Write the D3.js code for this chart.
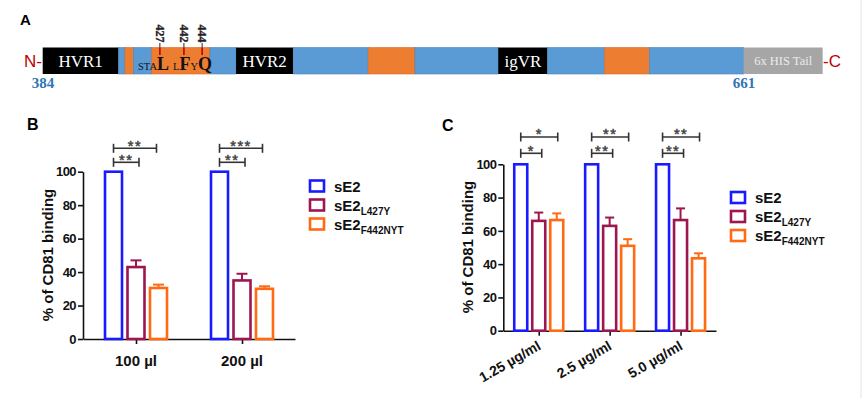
<!DOCTYPE html>
<html><head><meta charset="utf-8">
<script src="https://cdn.jsdelivr.net/npm/d3@7"></script>
<style>
body{margin:0;background:#fff;}
svg{display:block;}
</style></head>
<body>
<svg id="c" width="862" height="398" font-family="'Liberation Sans',Arial,sans-serif"></svg>
<script>
// ---------- DATA ----------
// Panel A: domain map (residue boundaries estimated from schematic)
const segEnds   = [414, 416.5, 419.8, 427.1, 450.1, 460.4, 483, 512.6, 531.1, 564, 583.5, 606, 623.7, 661, 692.2];
const segTypes  = ["hvr","b","o","b","o","b","hvr","b","o","b","hvr","b","o","b","tail"];
const segLabels = ["HVR1","","","","","","HVR2","","","","igVR","","","","6x HIS Tail"];
const startRes = 384, endRes = 661;
const markerLabels = ["427","442","444"];
const markerPos = [430.3, 439.8, 447.0];

// Panel B
const seriesNames = ["sE2", "sE2", "sE2"];
const seriesSubs  = ["", "L427Y", "F442NYT"];
const categoriesB = ["100 \u00b5l", "200 \u00b5l"];
const valuesB = [[100, 100], [43, 35], [30.5, 30]];
const errorsB = [[0, 0], [4, 4], [2, 1.5]];
const sigB = [
  {cat: 0, a: 0, b: 1, label: "**", level: 0},
  {cat: 0, a: 0, b: 2, label: "**", level: 1},
  {cat: 1, a: 0, b: 1, label: "**", level: 0},
  {cat: 1, a: 0, b: 2, label: "***", level: 1}
];

// Panel C
const categoriesC = ["1.25 \u00b5g/ml", "2.5 \u00b5g/ml", "5.0 \u00b5g/ml"];
const valuesC = [[100, 100, 100], [66, 63, 66.5], [66.5, 51, 43.5]];
const errorsC = [[0, 0, 0], [5, 5, 7], [4, 4, 3]];
const sigC = [
  {cat: 0, a: 0, b: 1, label: "*", level: 0},
  {cat: 0, a: 0, b: 2, label: "*", level: 1},
  {cat: 1, a: 0, b: 1, label: "**", level: 0},
  {cat: 1, a: 0, b: 2, label: "**", level: 1},
  {cat: 2, a: 0, b: 1, label: "**", level: 0},
  {cat: 2, a: 0, b: 2, label: "**", level: 1}
];
const yTicks = [0, 20, 40, 60, 80, 100];

// ---------- STYLE ----------
const serif = "'Liberation Serif','Times New Roman',serif";
const seriesColors = ["#1a1aff", "#9c1650", "#ff6a12"];
const segColors = {hvr: "#000000", b: "#5b9bd5", o: "#ed7d31", tail: "#a6a6a6"};

const svg = d3.select("#c");
svg.append("line").attr("x1",861).attr("x2",861).attr("y1",0).attr("y2",398).attr("stroke","#e4e4e4").attr("stroke-width",1);

// ---------- PANEL A ----------
const gA = svg.append("g");
gA.append("text").attr("x",20).attr("y",25).attr("font-size",15).attr("font-weight","bold").text("A");
const xA = d3.scaleLinear().domain([startRes, endRes]).range([42.7, 743.7]);
const barTop = 47.5, barH = 26.5;
let prev = startRes;
const segs = segEnds.map((e,i)=>{const s={s:prev,e:e,t:segTypes[i],l:segLabels[i]}; prev=e; return s;});
gA.selectAll("rect.seg").data(segs).join("rect")
  .attr("x", d=>xA(d.s)).attr("y", barTop).attr("width", d=>xA(d.e)-xA(d.s)).attr("height", barH)
  .attr("fill", d=>segColors[d.t])
  .attr("stroke", d=>d.t==="b"?"#4a86bd":(d.t==="o"?"#d9692a":"none")).attr("stroke-width",0.6);
gA.selectAll("text.seg").data(segs.filter(d=>d.l)).join("text")
  .attr("x", d=>(xA(d.s)+xA(d.e))/2).attr("y", d=>d.t==="tail"?65:67)
  .attr("text-anchor","middle")
  .attr("font-family", serif)
  .attr("font-size", d=>d.t==="tail"?12.5:17)
  .attr("fill", d=>d.t==="tail"?"#ececec":"#fff")
  .text(d=>d.l);
// Residue motif text
const motif = gA.append("text").attr("x",138).attr("y",70).attr("font-family",serif).attr("fill","#111");
motif.append("tspan").attr("font-size",10.5).text("STA");
motif.append("tspan").attr("font-size",18).attr("font-weight","bold").text("L");
const motif2 = gA.append("text").attr("x",173).attr("y",70).attr("font-family",serif).attr("fill","#111");
motif2.append("tspan").attr("font-size",10.5).text("L");
motif2.append("tspan").attr("font-size",18).attr("font-weight","bold").text("F");
motif2.append("tspan").attr("font-size",10.5).text("Y");
motif2.append("tspan").attr("font-size",18).attr("font-weight","bold").text("Q");
// markers
const mk = gA.selectAll("g.mk").data(markerLabels.map((l,i)=>({l, p: markerPos[i]}))).join("g")
  .attr("transform", d=>`translate(${xA(d.p)},0)`);
mk.append("line").attr("y1",43).attr("y2",47.5).attr("stroke","#222").attr("stroke-width",1);
mk.append("line").attr("y1",47.5).attr("y2",55).attr("stroke","#c00000").attr("stroke-width",1.6);
mk.append("text").attr("transform","translate(-4.2,24.5) rotate(90)")
  .attr("font-family",serif).attr("font-size",12).attr("font-weight","bold")
  .attr("fill","#222").attr("stroke","#222").attr("stroke-width",0.3).text(d=>d.l);
// ends
gA.append("text").attr("x",24).attr("y",67).attr("font-size",17).attr("fill","#c00000").text("N-");
gA.append("text").attr("x",823).attr("y",67).attr("font-size",17).attr("fill","#c00000").text("-C");
gA.append("text").attr("x",xA(startRes)-11).attr("y",88).attr("font-family",serif)
  .attr("font-size",15).attr("font-weight","bold").attr("fill","#2e75b6").text(startRes);
gA.append("text").attr("x",xA(endRes)-11).attr("y",88).attr("font-family",serif)
  .attr("font-size",15).attr("font-weight","bold").attr("fill","#2e75b6").text(endRes);

// ---------- BAR PANEL FUNCTION ----------
function barPanel(o){
  const g = svg.append("g");
  g.append("text").attr("x",o.letterX).attr("y",o.letterY).attr("font-size",16).attr("font-weight","bold").text(o.letter);
  const y = d3.scaleLinear().domain([0,100]).range([o.y0, o.y100]);
  const x = d3.scalePoint().domain(o.cats.map((c,i)=>i)).range([o.xL, o.xR]).padding(0.5);
  const inner = d3.scaleBand().domain([0,1,2]).range([-o.half, o.half]).paddingInner(o.pin).paddingOuter(0);
  // axes
  const ya = g.append("g").attr("transform",`translate(${o.xL},0)`)
    .call(d3.axisLeft(y).tickValues(yTicks).tickSize(5).tickSizeOuter(0).tickPadding(2));
  ya.select(".domain").attr("stroke","#111").attr("stroke-width",1.6);
  ya.selectAll(".tick line").attr("stroke","#111").attr("stroke-width",1.6);
  ya.selectAll(".tick text").attr("font-size",13).attr("font-weight","bold").attr("fill","#111")
    .attr("font-family","'Liberation Sans',Arial,sans-serif").attr("letter-spacing","-0.6px");
  const xa = g.append("g").attr("transform",`translate(0,${o.y0})`)
    .call(d3.axisBottom(x).tickSize(5).tickSizeOuter(0).tickFormat(()=>"") );
  xa.select(".domain").attr("stroke","#111").attr("stroke-width",1.6);
  xa.selectAll(".tick line").attr("stroke","#111").attr("stroke-width",1.6);
  // x labels
  const lab = g.selectAll("text.xl").data(o.cats).join("text")
    .attr("font-size", o.xlSize).attr("font-weight","bold").attr("fill","#111").text(d=>d);
  if(o.rotate){
    lab.attr("text-anchor","end").attr("transform",(d,i)=>`translate(${x(i)+3},${o.y0+18}) rotate(-30)`);
  } else {
    lab.attr("text-anchor","middle").attr("x",(d,i)=>x(i)).attr("y",o.y0+27);
  }
  // y label
  g.append("text").attr("transform",`translate(${o.ylX},${o.ylY}) rotate(-90)`).attr("text-anchor","middle")
    .attr("font-size",15).attr("font-weight","bold").attr("fill","#111").text("% of CD81 binding");
  // bars
  o.vals.forEach((ser,si)=>{
    const col = seriesColors[si];
    ser.forEach((v,ci)=>{
      const bx = x(ci)+inner(si);
      const bw = inner.bandwidth();
      const e = o.errs[si][ci];
      if(e>0){
        g.append("line").attr("x1",bx+bw/2).attr("x2",bx+bw/2).attr("y1",y(v)).attr("y2",y(v+e)).attr("stroke",col).attr("stroke-width",2);
        g.append("line").attr("x1",bx+bw/2-o.cap/2).attr("x2",bx+bw/2+o.cap/2).attr("y1",y(v+e)).attr("y2",y(v+e)).attr("stroke",col).attr("stroke-width",2);
      }
      g.append("rect").attr("x",bx).attr("y",y(v)).attr("width",bw).attr("height",y(0)-y(v))
        .attr("fill","#fff").attr("stroke",col).attr("stroke-width",2.6);
    });
  });
  // significance brackets
  o.sig.forEach(s=>{
    const x1 = x(s.cat)+inner(s.a)+inner.bandwidth()/2;
    const x2 = x(s.cat)+inner(s.b)+inner.bandwidth()/2 + o.sigExtra[s.b];
    const yy = o.sigY[s.level];
    g.append("line").attr("x1",x1).attr("x2",x2).attr("y1",yy).attr("y2",yy).attr("stroke","#333").attr("stroke-width",1.6);
    [x1,x2].forEach(xx=>g.append("line").attr("x1",xx).attr("x2",xx).attr("y1",yy-4.5).attr("y2",yy+4.5).attr("stroke","#333").attr("stroke-width",1.6));
    g.append("text").attr("x",(x1+x2)/2).attr("y",yy+2.2).attr("text-anchor","middle").attr("font-size",14.5)
      .attr("letter-spacing","1.5px").attr("fill","#444").attr("stroke","#444").attr("stroke-width",0.5).text(s.label);
  });
  // legend
  const lg = g.append("g").attr("transform",`translate(${o.legX},${o.legY})`);
  seriesNames.forEach((n,i)=>{
    const row = lg.append("g").attr("transform",`translate(0,${i*o.legStep})`);
    row.append("rect").attr("x",0).attr("y",0).attr("width",14).attr("height",11).attr("fill","#fff")
      .attr("stroke",seriesColors[i]).attr("stroke-width",2.6);
    const t = row.append("text").attr("x",24).attr("y",11).attr("font-size",15).attr("font-weight","bold").attr("fill","#111");
    t.append("tspan").text(n);
    if(seriesSubs[i]) t.append("tspan").attr("font-size",10).attr("dy",4).text(seriesSubs[i]);
  });
}

barPanel({letter:"B", letterX:27, letterY:130, cats:categoriesB, vals:valuesB, errs:errorsB, sig:sigB,
  y0:339, y100:171.7, xL:83, xR:295, half:31, pin:0.244, cap:11, rotate:false, xlSize:15,
  ylX:53, ylY:255, sigY:[162.3,148.3], sigExtra:[0,3,-2], legX:310, legY:180.5, legStep:19, });
barPanel({letter:"C", letterX:442, letterY:131, cats:categoriesC, vals:valuesC, errs:errorsC, sig:sigC,
  y0:330.7, y100:164.3, xL:503.3, xR:716, half:24.5, pin:0.278, cap:9, rotate:true, xlSize:14,
  ylX:473, ylY:247, sigY:[153.3,137], sigExtra:[0,3,1], legX:731, legY:192, legStep:19, });
</script>
</body></html>
